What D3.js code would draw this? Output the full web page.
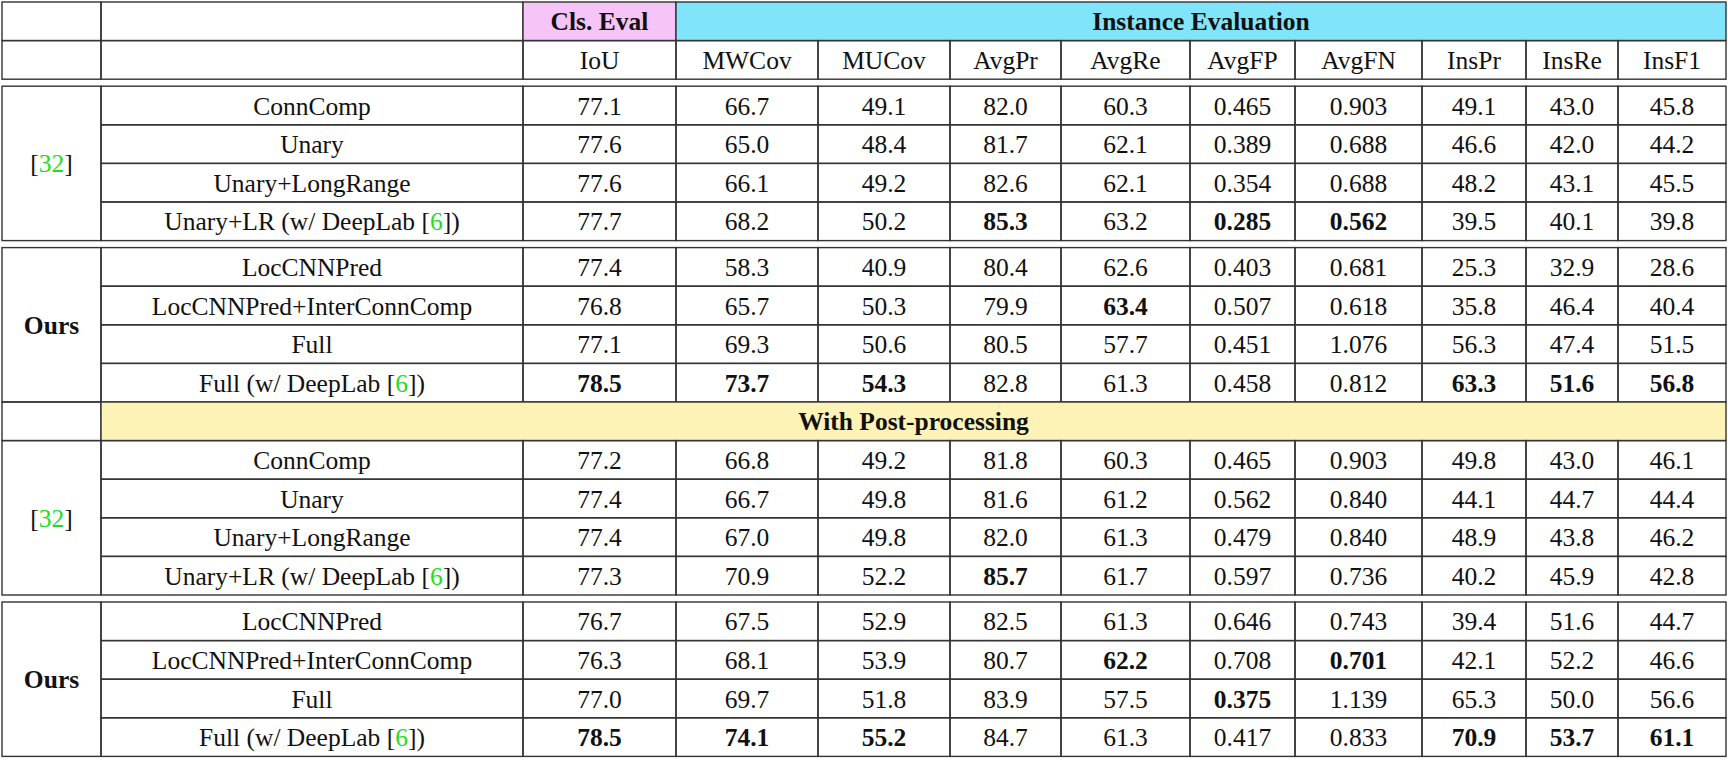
<!DOCTYPE html>
<html><head><meta charset="utf-8">
<script src="https://cdn.jsdelivr.net/npm/d3@7"></script>
<style>body{margin:0;background:#fff}svg{display:block}</style>
</head><body>
<svg id="t" width="1728" height="763"></svg>
<script>
const metrics = ["IoU","MWCov","MUCov","AvgPr","AvgRe","AvgFP","AvgFN","InsPr","InsRe","InsF1"];
const methods32 = ["ConnComp","Unary","Unary+LongRange","Unary+LR (w/ DeepLab [6])"];
const methodsOurs = ["LocCNNPred","LocCNNPred+InterConnComp","Full","Full (w/ DeepLab [6])"];

const vals1 = [
  ["77.1","66.7","49.1","82.0","60.3","0.465","0.903","49.1","43.0","45.8"],
  ["77.6","65.0","48.4","81.7","62.1","0.389","0.688","46.6","42.0","44.2"],
  ["77.6","66.1","49.2","82.6","62.1","0.354","0.688","48.2","43.1","45.5"],
  ["77.7","68.2","50.2","85.3","63.2","0.285","0.562","39.5","40.1","39.8"]];
const bold1 = [[],[],[],[3,5,6]];
const vals2 = [
  ["77.4","58.3","40.9","80.4","62.6","0.403","0.681","25.3","32.9","28.6"],
  ["76.8","65.7","50.3","79.9","63.4","0.507","0.618","35.8","46.4","40.4"],
  ["77.1","69.3","50.6","80.5","57.7","0.451","1.076","56.3","47.4","51.5"],
  ["78.5","73.7","54.3","82.8","61.3","0.458","0.812","63.3","51.6","56.8"]];
const bold2 = [[],[4],[],[0,1,2,7,8,9]];
const vals3 = [
  ["77.2","66.8","49.2","81.8","60.3","0.465","0.903","49.8","43.0","46.1"],
  ["77.4","66.7","49.8","81.6","61.2","0.562","0.840","44.1","44.7","44.4"],
  ["77.4","67.0","49.8","82.0","61.3","0.479","0.840","48.9","43.8","46.2"],
  ["77.3","70.9","52.2","85.7","61.7","0.597","0.736","40.2","45.9","42.8"]];
const bold3 = [[],[],[],[3]];
const vals4 = [
  ["76.7","67.5","52.9","82.5","61.3","0.646","0.743","39.4","51.6","44.7"],
  ["76.3","68.1","53.9","80.7","62.2","0.708","0.701","42.1","52.2","46.6"],
  ["77.0","69.7","51.8","83.9","57.5","0.375","1.139","65.3","50.0","56.6"],
  ["78.5","74.1","55.2","84.7","61.3","0.417","0.833","70.9","53.7","61.1"]];
const bold4 = [[],[4,6],[5],[0,1,2,7,8,9]];

const blocks = [
  {group:"[32]", groupBold:false, methods:methods32, vals:vals1, bold:bold1},
  {group:"Ours", groupBold:true, methods:methodsOurs, vals:vals2, bold:bold2, post:true},
  {group:"[32]", groupBold:false, methods:methods32, vals:vals3, bold:bold3},
  {group:"Ours", groupBold:true, methods:methodsOurs, vals:vals4, bold:bold4}
];

// layout
const colW = [99,422,153,142,132,111,129,105,127,104,92,108];
const edges = [2];
colW.forEach(w => edges.push(edges[edges.length-1] + w));
const rowH = 38.6, gap = 7;
const FONT = "'Liberation Serif','DejaVu Serif',serif", FS = 25.5;
const LINE = "#333";

const svg = d3.select("#t");
const g = svg.append("g");

function cell(x0, x1, y0, y1, fill){
  g.append("rect").attr("x", x0).attr("y", y0).attr("width", x1-x0).attr("height", y1-y0)
    .attr("fill", fill || "none").attr("stroke", LINE).attr("stroke-width", 1.4);
}
function label(x, y, str, bold){
  const t = g.append("text").attr("x", x).attr("y", y).attr("text-anchor","middle")
    .attr("dominant-baseline","central").attr("font-family", FONT).attr("font-size", FS)
    .attr("font-weight", bold ? "bold" : "normal").attr("fill","#111");
  str.split(/(\[\d+\])/).filter(s => s.length).forEach(part => {
    const m = part.match(/^\[(\d+)\]$/);
    if (m){
      t.append("tspan").text("[");
      t.append("tspan").attr("fill","#22dd22").text(m[1]);
      t.append("tspan").text("]");
    } else t.append("tspan").text(part);
  });
}

let y = 2;
// header row 1
cell(edges[0], edges[1], y, y+rowH);
cell(edges[1], edges[2], y, y+rowH);
cell(edges[2], edges[3], y, y+rowH, "#f6c4f6");
label((edges[2]+edges[3])/2, y+rowH/2, "Cls. Eval", true);
cell(edges[3], edges[12], y, y+rowH, "#80e4fb");
label((edges[3]+edges[12])/2, y+rowH/2, "Instance Evaluation", true);
y += rowH;
// header row 2
cell(edges[0], edges[1], y, y+rowH);
cell(edges[1], edges[2], y, y+rowH);
metrics.forEach((m,i) => {
  cell(edges[i+2], edges[i+3], y, y+rowH);
  label((edges[i+2]+edges[i+3])/2, y+rowH/2, m, false);
});
y += rowH;

blocks.forEach((b, bi) => {
  if (!(bi === 2)) y += gap;
  const top = y;
  b.methods.forEach((mth, r) => {
    cell(edges[1], edges[2], y, y+rowH);
    label((edges[1]+edges[2])/2, y+rowH/2, mth, false);
    b.vals[r].forEach((v, c) => {
      cell(edges[c+2], edges[c+3], y, y+rowH);
      label((edges[c+2]+edges[c+3])/2, y+rowH/2, v, b.bold[r].includes(c));
    });
    y += rowH;
  });
  cell(edges[0], edges[1], top, y);
  label((edges[0]+edges[1])/2, (top+y)/2, b.group, b.groupBold);
  if (b.post){
    cell(edges[0], edges[1], y, y+rowH);
    cell(edges[1], edges[12], y, y+rowH, "#fdf3b6");
    label((edges[1]+edges[12])/2, y+rowH/2, "With Post-processing", true);
    y += rowH;
  }
});
</script>
</body></html>
